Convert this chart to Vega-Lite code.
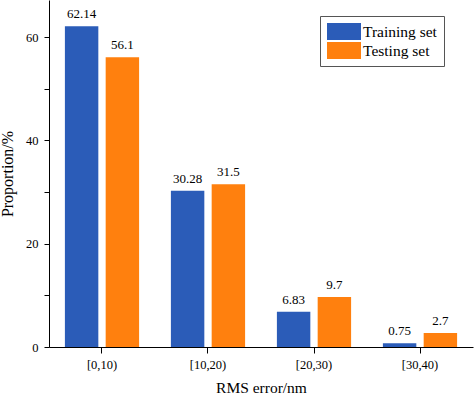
{
  "$schema": "https://vega.github.io/schema/vega-lite/v6.json",
  "width": 424,
  "height": 347,
  "autosize": "none",
  "padding": {"left": 49, "top": 0, "right": 1, "bottom": 48},
  "config": {
    "font": "Liberation Serif",
    "view": {"stroke": null},
    "axis": {"domainColor": "black", "tickColor": "black", "labelColor": "black", "titleColor": "black", "grid": false, "labelFont": "Liberation Serif", "titleFont": "Liberation Serif", "titleFontWeight": "normal"}
  },
  "data": {
    "values": [
      {"range": "[0,10)", "set": "Training set", "value": 62.14, "label": "62.14"},
      {"range": "[0,10)", "set": "Testing set", "value": 56.1, "label": "56.1"},
      {"range": "[10,20)", "set": "Training set", "value": 30.28, "label": "30.28"},
      {"range": "[10,20)", "set": "Testing set", "value": 31.5, "label": "31.5"},
      {"range": "[20,30)", "set": "Training set", "value": 6.83, "label": "6.83"},
      {"range": "[20,30)", "set": "Testing set", "value": 9.7, "label": "9.7"},
      {"range": "[30,40)", "set": "Training set", "value": 0.75, "label": "0.75"},
      {"range": "[30,40)", "set": "Testing set", "value": 2.7, "label": "2.7"}
    ]
  },
  "encoding": {
    "x": {
      "field": "range", "type": "nominal", "sort": null,
      "scale": {"paddingInner": 0.3, "paddingOuter": 0.15},
      "axis": {"title": "RMS error/nm", "labelAngle": 0, "labelFontSize": 12.5, "titleFontSize": 15.5, "labelPadding": 5, "titlePadding": 10, "tickSize": 6}
    },
    "xOffset": {"field": "set", "type": "nominal", "sort": ["Training set", "Testing set"], "scale": {"paddingInner": 0.18, "paddingOuter": 0}},
    "y": {
      "field": "value", "type": "quantitative",
      "scale": {"domain": [0, 67.2], "nice": false},
      "axis": {"title": "Proportion/%", "values": [0, 10, 20, 30, 40, 50, 60], "labelExpr": "datum.value % 20 == 0 ? datum.label : ''", "labelFontSize": 12.5, "titleFontSize": 16, "tickSize": 5, "labelPadding": 6, "titlePadding": 10}
    }
  },
  "layer": [
    {
      "mark": {"type": "bar"},
      "encoding": {
        "color": {
          "field": "set", "type": "nominal", "sort": ["Training set", "Testing set"],
          "scale": {"domain": ["Training set", "Testing set"], "range": ["#2b5cb8", "#ff800e"]},
          "legend": {
            "title": null, "orient": "none", "legendX": 271, "legendY": 16,
            "strokeColor": "#555", "padding": 7, "fillColor": "white",
            "symbolType": "M-1,-1H3V1H-1Z", "symbolSize": 289, "symbolStrokeWidth": 0,
            "labelFont": "Liberation Serif", "labelFontSize": 15.5, "labelColor": "black",
            "labelOffset": 19, "rowPadding": 2
          }
        }
      }
    },
    {
      "mark": {"type": "text", "baseline": "bottom", "dy": -5, "fontSize": 13, "font": "Liberation Serif", "color": "black"},
      "encoding": {"text": {"field": "label"}}
    }
  ]
}
